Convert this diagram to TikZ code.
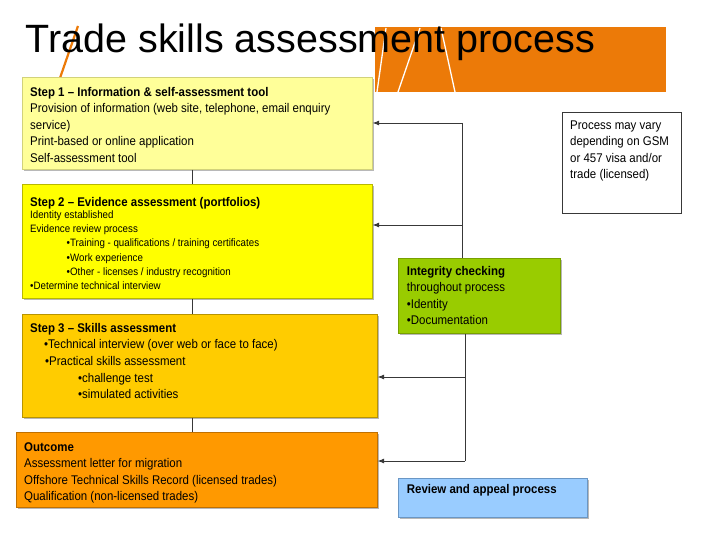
\documentclass[tikz,border=0pt]{standalone}
\usepackage{fontspec}
\setmainfont{Liberation Sans}
\newfontfamily\bodyfont{Liberation Sans}[FakeStretch=0.91]
\usetikzlibrary{arrows.meta,shadows}
\definecolor{bannerorange}{HTML}{EC7A08}
\definecolor{s1fill}{HTML}{FFFF99}
\definecolor{s1draw}{HTML}{D2D27A}
\definecolor{s2fill}{HTML}{FFFF00}
\definecolor{s2draw}{HTML}{B8B800}
\definecolor{s3fill}{HTML}{FFCC00}
\definecolor{s3draw}{HTML}{B89400}
\definecolor{outfill}{HTML}{FF9900}
\definecolor{outdraw}{HTML}{C07000}
\definecolor{intfill}{HTML}{99CC00}
\definecolor{intdraw}{HTML}{78A000}
\definecolor{revfill}{HTML}{99CCFF}
\definecolor{revdraw}{HTML}{6A96C4}
\definecolor{linegray}{HTML}{383838}
\begin{document}
\begin{tikzpicture}[x=1pt,y=-1pt,
  boxbase/.style={rectangle, anchor=north west, inner sep=0pt, line width=0.6pt},
  shadowbox/.style={boxbase, drop shadow={shadow xshift=1.2pt, shadow yshift=-1.5pt, fill=black!35, opacity=0.8}},
  txt/.style={anchor=north west, inner sep=0pt, align=left, font=\bodyfont\fontsize{12.6}{16.5}\selectfont},
  smalltxt/.style={anchor=north west, inner sep=0pt, align=left, font=\bodyfont\fontsize{10.7}{14.3}\selectfont},
  conn/.style={draw=linegray, line width=0.9pt},
  arr/.style={conn, -{Latex[length=6.5pt,width=5pt]}}
]
\useasboundingbox (0,0) rectangle (720,540);
% banner
\fill[bannerorange] (375,27) rectangle (666,92);
\draw[white, line width=1.3pt] (377,92) -- (386,28);
\draw[white, line width=1.3pt] (398,92) -- (420,28);
\draw[white, line width=1.3pt] (455,92) -- (441,28);
\draw[bannerorange, line width=2.2pt] (78,26) -- (60,78);
% title
\node[anchor=base west, inner sep=0pt, font=\fontsize{39.5}{47}\selectfont] (title) at (25.5,52.7) {Trade skills assessment process};

% spine coordinates
\coordinate (spine) at (192,0);
\coordinate (j1) at (462,123);
\coordinate (j2) at (462,225);
\coordinate (j3) at (465,377);
\coordinate (j4) at (465,461);

% boxes
\node[shadowbox, fill=s1fill, draw=s1draw, minimum width=350pt, minimum height=92pt] (s1) at (22,77) {};
\node[shadowbox, fill=s2fill, draw=s2draw, minimum width=350pt, minimum height=114pt] (s2) at (22,184) {};
\node[shadowbox, fill=s3fill, draw=s3draw, minimum width=355pt, minimum height=103pt] (s3) at (22,314) {};
\node[shadowbox, fill=outfill, draw=outdraw, minimum width=361pt, minimum height=75pt] (out) at (16,432) {};
\node[shadowbox, fill=intfill, draw=intdraw, minimum width=162pt, minimum height=75pt] (integ) at (398,258) {};
\node[shadowbox, fill=revfill, draw=revdraw, minimum width=189pt, minimum height=39pt] (rev) at (398,478) {};
\node[boxbase, fill=white, draw=linegray, minimum width=119pt, minimum height=101pt] (proc) at (562,112) {};

% vertical connectors between steps
\draw[conn] (s1.south -| spine) -- (s2.north -| spine);
\draw[conn] (s2.south -| spine) -- (s3.north -| spine);
\draw[conn] (s3.south -| spine) -- (out.north -| spine);

% integrity connectors
\draw[conn] (j1) -- (j1 |- integ.north);
\draw[arr] (j1) -- (j1 -| s1.east);
\draw[arr] (j2) -- (j2 -| s2.east);
\draw[conn] (j4 |- integ.south) -- (j4);
\draw[arr] (j3) -- (j3 -| s3.east);
\draw[arr] (j4) -- (j4 -| out.east);

% texts
\node[txt] (t1) at (30,84.45) {\strut\textbf{Step 1 – Information \& self-assessment tool}\\
Provision of information (web site, telephone, email enquiry\\
service)\\
Print-based or online application\\
Self-assessment tool};

\node[txt] (t2a) at (30,194.45) {\strut\textbf{Step 2 – Evidence assessment (portfolios)}};
\node[smalltxt] (t2b) at (30,208) {\strut Identity established\\
Evidence review process\\
\hspace*{36.5pt}•Training - qualifications / training certificates\\
\hspace*{36.5pt}•Work experience\\
\hspace*{36.5pt}•Other - licenses / industry recognition\\
•Determine technical interview};

\node[txt, font=\bodyfont\fontsize{12.6}{16.7}\selectfont] (t3) at (30,320.3) {\strut\textbf{Step 3 – Skills assessment}\\
\hspace*{14pt}•Technical interview (over web or face to face)\\
\hspace*{15pt}•Practical skills assessment\\
\hspace*{48pt}•challenge test\\
\hspace*{48pt}•simulated activities};

\node[txt] (t4) at (24,439.45) {\strut\textbf{Outcome}\\
Assessment letter for migration\\
Offshore Technical Skills Record (licensed trades)\\
Qualification (non-licensed trades)};

\node[txt] (t5) at (406.7,263.45) {\strut\textbf{Integrity checking}\\
throughout process\\
•Identity\\
•Documentation};

\node[txt] (t6) at (406.7,481.95) {\strut\textbf{Review and appeal process}};

\node[txt] (t7) at (570,117.75) {\strut Process may vary\\
depending on GSM\\
or 457 visa and/or\\
trade (licensed)};
\end{tikzpicture}
\end{document}
